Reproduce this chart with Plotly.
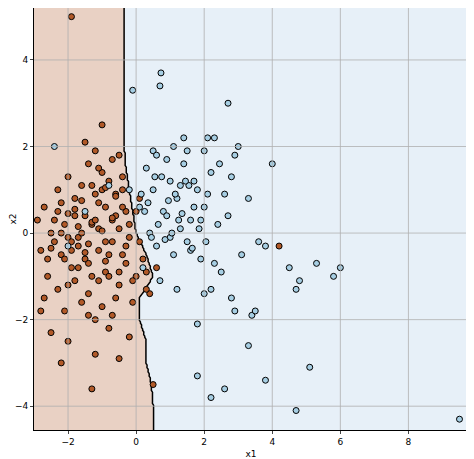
import numpy as np
import plotly.graph_objects as go

# class 0 (brown) points
red_x = [-1.9,-2.9,-2.7,-2.2,-1.3,-0.5,-1.0,-1.2,4.2,0.5,-2.0,-2.5,-2.3,-2.1,-1.8,-1.6,-1.5,-1.4,-1.2,-1.1,-1.0,-0.9,-0.8,-0.7,-0.6,-0.5,-0.4,-2.4,-2.2,-2.0,-1.9,-1.7,-1.5,-1.3,-1.1,-0.9,-0.7,-0.5,-0.3,-2.6,-2.3,-2.1,-1.8,-1.6,-1.4,-1.2,-1.0,-0.8,-0.6,-0.4,-0.2,0.0,0.2,-2.8,-2.5,-1.7,-1.3,-0.9,-0.6,-0.3,0.1,0.3,-1.5,-1.1,-0.7,-2.0,-1.6,-1.9,-1.4,-0.8,-1.2,-2.2,0.4,0.6,-0.2,-0.1,-1.8,-2.6,
         -2.7,-2.4,-2.0,-1.7,-1.3,-1.0,-0.7,-0.4,-2.5,-2.1,-1.8,-1.4,-1.1,-0.8,-0.5,-0.2,-2.2,-1.9,-1.5,-1.2,-0.9,-0.6,-0.3,0.0,-2.3,-1.6,-1.0,-0.4,0.1,-1.7,-1.3,-0.5,-2.8,-2.0,-1.1,-0.7,0.3,-0.1,-1.4,-0.9]
red_y = [5.0,0.3,-1.5,-3.0,-3.6,-2.9,2.5,1.9,-0.3,-3.5,-2.5,-2.3,0.5,0.2,0.8,1.1,0.4,1.6,0.9,0.1,1.4,0.6,1.2,0.3,0.9,1.8,1.0,-0.2,-0.5,-0.1,-0.8,-0.3,-0.6,-1.0,-0.4,-0.9,-0.2,-1.2,-0.7,-1.0,-1.3,-1.8,-1.1,-1.6,-1.4,-2.0,-1.7,-2.2,-1.5,-0.5,-2.4,-1.0,-0.6,-1.8,0.0,-0.1,0.2,-0.2,0.4,0.5,0.8,-0.9,2.1,1.5,1.7,1.3,0.0,-0.4,-1.9,-1.0,-2.8,0.7,-1.4,-0.8,0.2,-1.6,0.4,-0.6,
         0.6,0.3,0.45,0.15,0.25,0.05,0.35,0.6,-0.35,-0.6,0.55,-0.25,0.7,-0.5,0.1,-0.1,0.0,-0.2,-0.45,0.3,-0.65,0.85,-0.3,0.5,1.0,0.75,1.0,1.3,-0.2,-0.8,1.1,-0.9,-0.4,-1.2,-1.1,-1.9,-1.3,-1.1,-0.7,1.05]
# class 1 (light blue) points
blue_x = [-2.4,0.7,-0.1,0.73,2.7,4.0,3.6,3.8,4.5,4.7,4.8,5.3,5.8,6.0,9.5,4.7,5.1,3.8,2.2,2.6,3.3,3.4,3.5,1.8,1.8,2.2,2.8,2.9,1.4,2.1,2.3,2.0,2.8,2.9,3.0,3.3,0.3,0.5,0.8,1.0,1.2,1.4,1.6,1.8,2.0,2.2,2.4,2.6,0.4,0.6,0.9,1.1,1.3,1.5,1.7,1.9,2.1,2.5,0.2,0.7,1.0,1.2,1.5,1.6,1.9,2.3,2.7,3.1,0.5,0.9,1.3,1.7,2.0,1.1,0.1,-0.2,-0.8,-1.5,-2.0,
          0.35,0.65,0.95,1.25,1.55,1.85,0.45,0.75,1.05,1.35,1.65,0.25,0.55,0.85,1.15,1.45,2.45,2.05,0.15,0.6]
blue_y = [2.0,3.4,3.3,3.7,3.0,1.6,-0.2,-0.3,-0.8,-1.3,-1.1,-0.7,-1.0,-0.8,-4.3,-4.1,-3.1,-3.4,-3.8,-3.6,-2.6,-1.9,-1.8,-3.3,-2.1,-1.3,-1.5,-1.8,2.2,2.2,2.2,1.9,1.3,1.8,2.0,0.8,1.5,1.0,0.5,1.2,0.8,1.6,0.3,1.0,0.6,1.4,0.2,0.9,0.0,-0.3,0.4,-0.5,0.1,-0.2,0.6,-0.6,0.9,-0.9,-0.8,-1.1,-0.1,-1.3,1.9,-0.4,0.3,-0.7,0.4,-0.5,1.9,1.7,1.1,1.2,-1.4,2.0,0.6,1.0,1.1,0.5,-0.3,
          0.7,0.2,0.75,0.3,1.1,0.1,-0.1,1.3,0.0,0.45,-0.35,0.5,1.3,-0.15,0.9,1.2,1.6,-0.2,0.9,1.8]

# decision boundary: x of boundary per y band
band_y = [-4.6,-4.0,-3.5,-3.0,-2.5,-2.0,-1.5,-1.0,-0.5,0.0,0.5,1.0,1.5,2.0,2.5,3.0,3.5,4.0,4.5,5.3]
band_x = [0.5,0.5,0.45,0.3,0.3,0.1,0.1,0.5,0.3,0.0,-0.1,-0.2,-0.3,-0.35,-0.35,-0.35,-0.35,-0.35,-0.35,-0.35]
xticks = [-2, 0, 2, 4, 6, 8]
yticks = [-4, -2, 0, 2, 4]

gx = np.linspace(-3, 9.8, 400)
gy = np.linspace(-4.6, 5.3, 300)
bx = np.interp(gy, band_y, band_x)
Z = (gx[None, :] > bx[:, None]).astype(float)

fig = go.Figure()
fig.add_trace(go.Contour(x=gx, y=gy, z=Z, showscale=False,
    contours=dict(start=0.5, end=0.5, size=1, coloring="heatmap"),
    colorscale=[[0, "#e9d1c4"], [1, "#e7f0f8"]],
    line=dict(color="black", width=1.5), hoverinfo="skip"))
for t in xticks:
    fig.add_vline(x=t, line=dict(color="#b0b0b0", width=0.8), layer="above")
for t in yticks:
    fig.add_hline(y=t, line=dict(color="#b0b0b0", width=0.8), layer="above")
fig.add_trace(go.Scatter(x=red_x, y=red_y, mode="markers",
    marker=dict(color="#b15928", size=6, line=dict(color="black", width=1))))
fig.add_trace(go.Scatter(x=blue_x, y=blue_y, mode="markers",
    marker=dict(color="#a6cee3", size=6, line=dict(color="black", width=1))))
ax = dict(showgrid=False, zeroline=False, showline=True, automargin=False,
          linecolor="black", mirror=True, ticks="outside", ticklen=3,
          tickfont=dict(family="DejaVu Sans", size=9, color="black"))
fig.update_layout(width=466, height=451, showlegend=False,
    plot_bgcolor="white", paper_bgcolor="white",
    margin=dict(l=26, r=6, t=0, b=29),
    xaxis=dict(range=[-3, 9.75], tickvals=xticks, title=dict(text="x1", standoff=4,
               font=dict(family="DejaVu Sans", size=9, color="black")), **ax),
    yaxis=dict(range=[-4.55, 5.2], tickvals=yticks, title=dict(text="x2", standoff=4,
               font=dict(family="DejaVu Sans", size=9, color="black")), **ax))
fig.write_html("out.html")
